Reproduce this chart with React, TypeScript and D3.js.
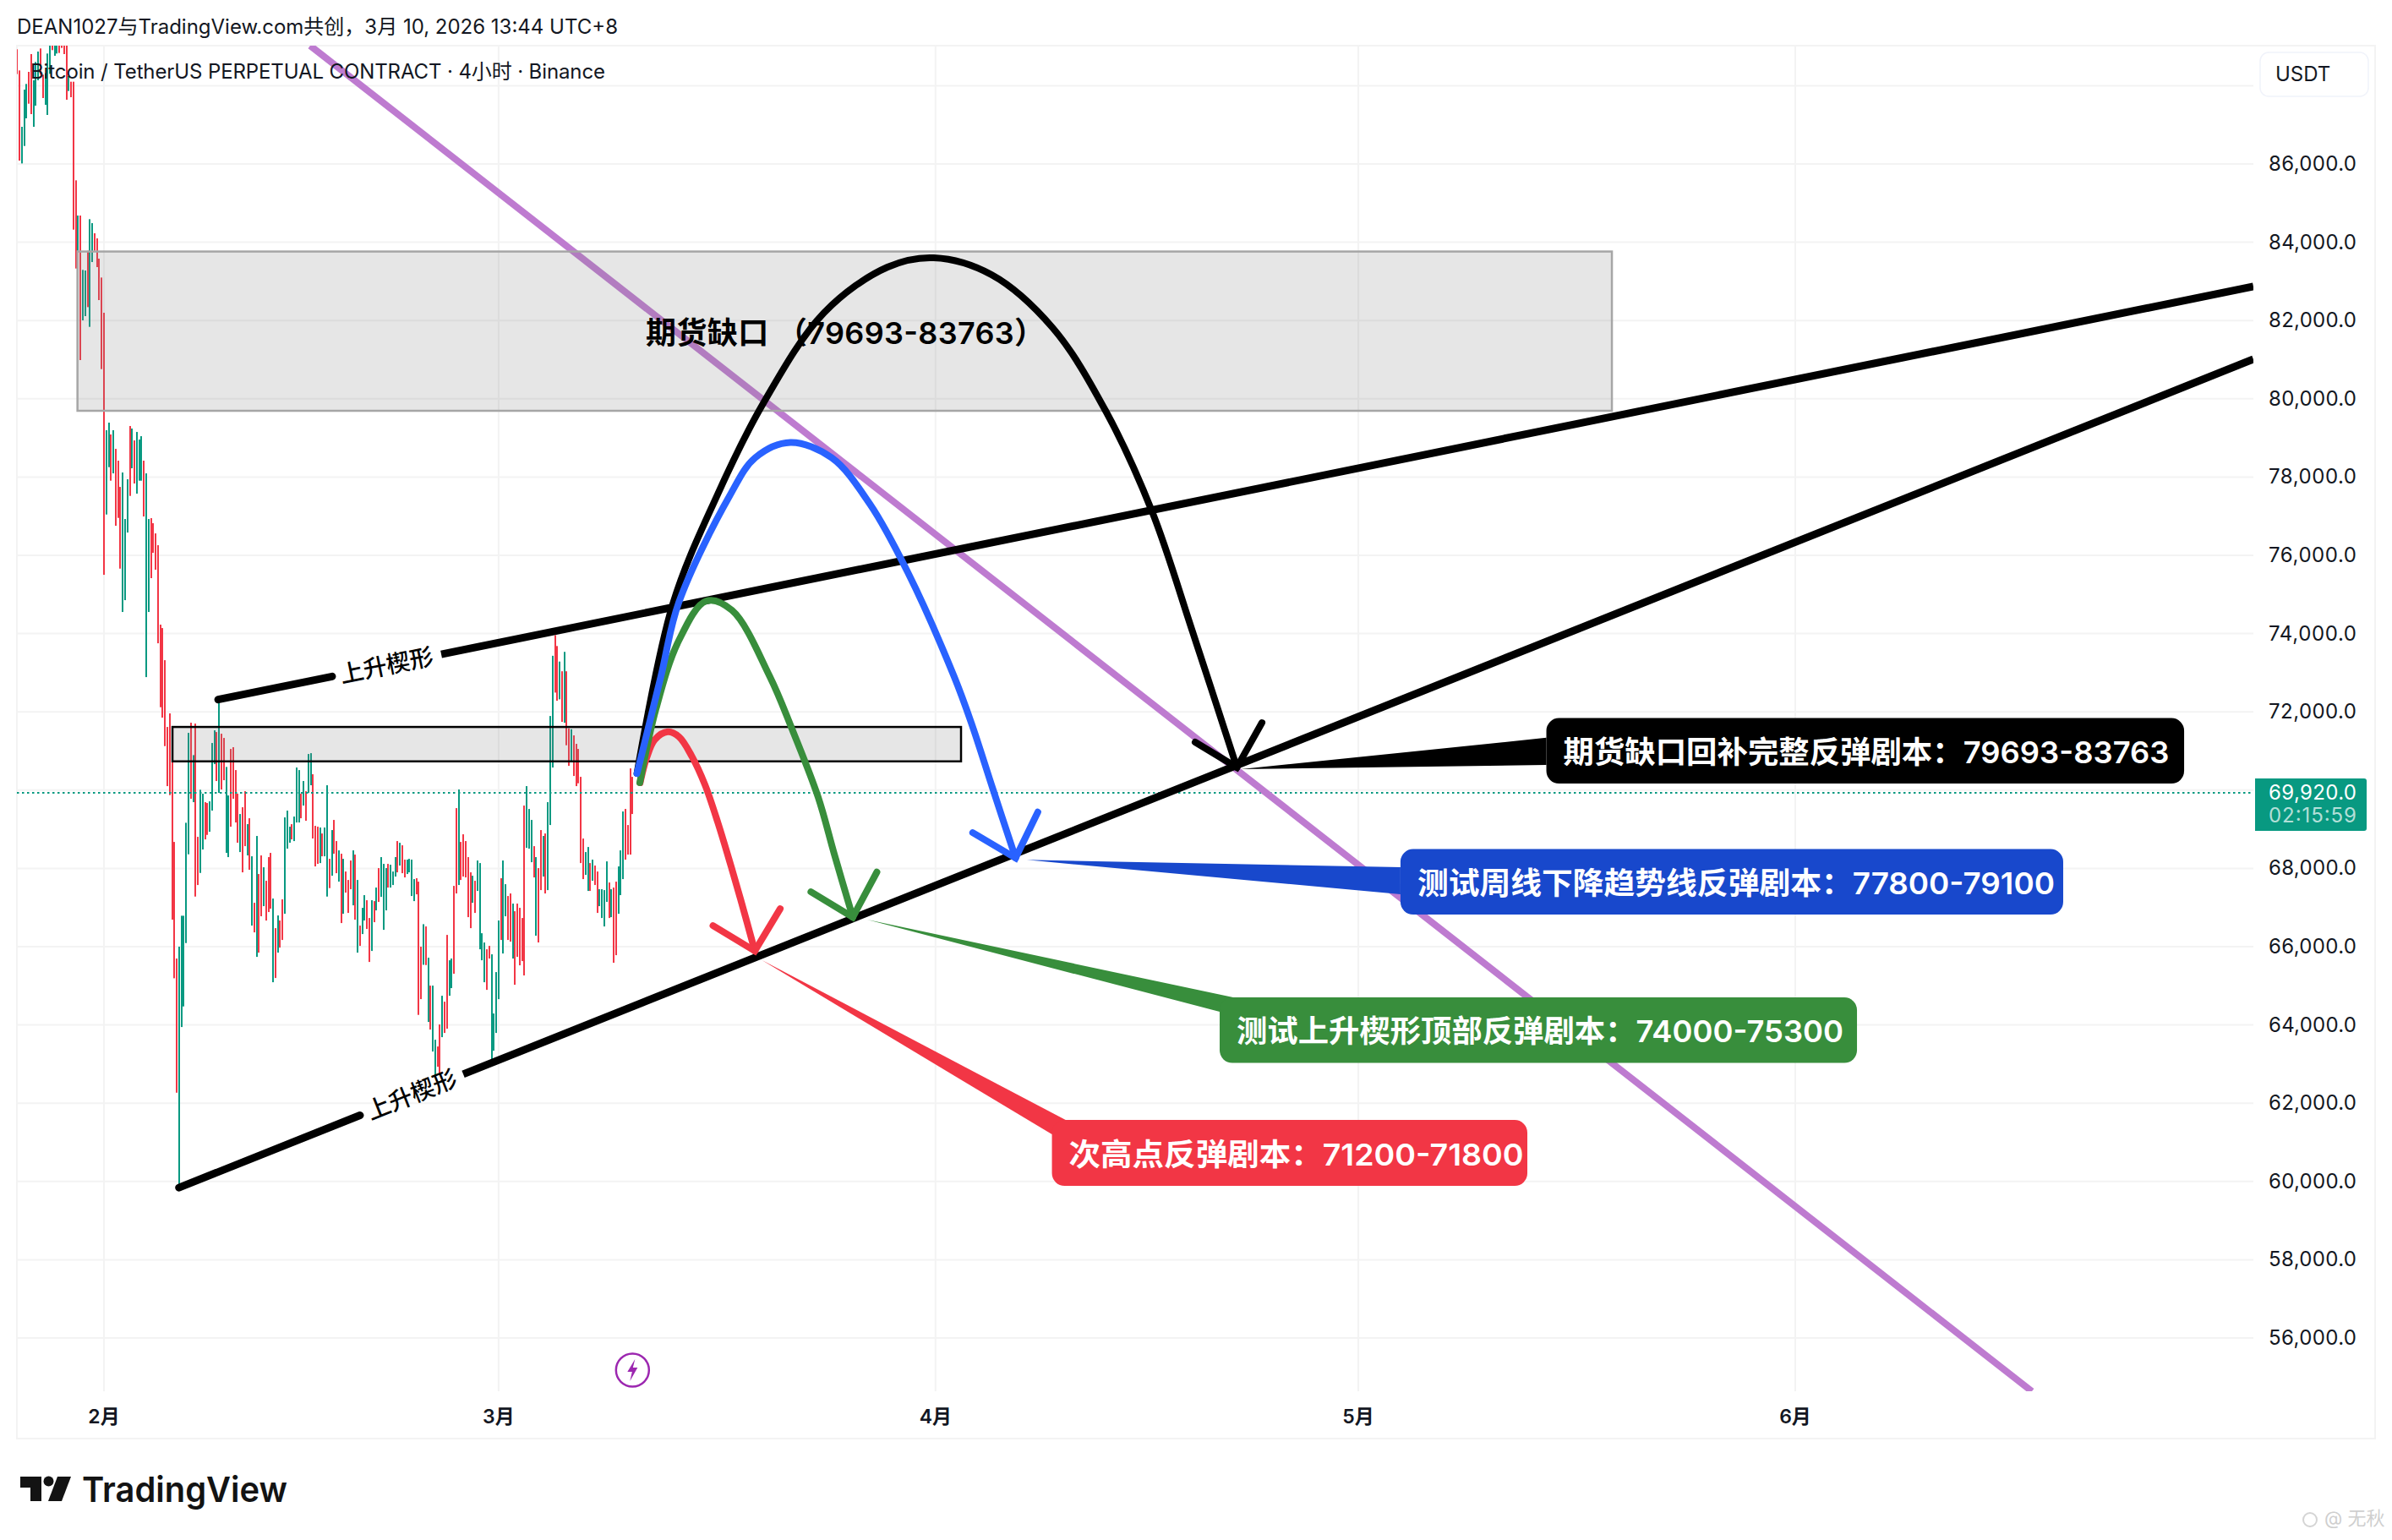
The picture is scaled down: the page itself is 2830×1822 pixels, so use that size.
import React from "react";
import * as d3 from "d3";

// ---------- candle data (4h bars, last bar = 2026-03-10 12:00 UTC+8) ----------
const candleDir = (
  "d d u u u d d u u u d d u u u d u u d d d d u d d d u d u u d u u d d d d d " +
  "u u d u d d d u u u d u d u u u d u u d d d d d d " +
  "d d d d d d u u u u u d u d d u u d d u u u d u d d u u d d d d u d d u " +
  "d u d u d d u d d d u d u d d u u u d u u u d u d u u d d d u d u u d u d " +
  "d u d u d d d u d u d u u d d u d u d u u u d u u u d u d d u u u u d d " +
  "d u d u d u u d d u d d u u d d u d d d d d u d u u u u d d u u u u " +
  "d u u d d u d d d d d u u u d u d d u d u u u d d u d u d d u d " +
  "d d d d u u d u d d u u u u d u d d u u u d d d d d u u d d u u u " +
  "d d d u d d d d u d d d d d u d d u d u u u u d u d u u u u u u d u u"
).split(" ");

const candleHigh = [
  88930, 88390, 86950, 87900, 88045, 88354, 88808, 88138, 88606, 88873, 88952, 88282, 88318, 88822, 90000, 90000, 90000, 90000, 90000, 90000,
  90000, 90000, 88246, 88102, 88102, 85582, 84682, 84682, 83293, 83278, 83782, 84589, 84488, 84229, 84099, 83581, 83098, 82198,
  79196, 79390, 79088, 79196, 78720, 78418, 77748, 78116, 76928, 77943, 79304, 79239, 78936, 79152, 78958, 79044, 78418, 78094, 76928, 76949, 76820, 76560, 76258, 74228, 74141,
  73320, 71614, 71960, 70750, 68676, 65696, 66000, 66790, 66790, 69166, 71463, 71722, 70894, 71700, 68806, 70008, 69908, 69692, 69670, 69713, 71204, 71528, 71484,
  72312, 71441, 71333, 70592, 69864, 71052, 71096, 70512, 69908, 69389, 69562, 69972, 69130, 69281, 68309, 67121, 68828, 67856, 68331, 68028, 67683, 68288, 68396, 67229,
  66473, 66797, 66668, 67208, 69303, 69476, 69065, 69130, 69324, 70577, 70512, 69908, 70232, 69972, 70923, 70944, 70405, 69087, 69065, 69044, 68892, 69044, 70124, 68244,
  68979, 69238, 68698, 68460, 68374, 68244, 67920, 67704, 68201, 68460, 68352, 67704, 66538, 66992, 67316, 67186, 66732, 67186, 67164, 67510, 68007, 68288, 68115, 68007,
  68115, 68093, 67920, 68288, 68698, 68654, 68590, 68223,
  68223, 68244, 68223, 67726, 67748, 67661, 66000, 66574, 66516, 65717, 65004, 65004, 63622, 63449, 64011, 64745, 64594, 66300, 65652, 65696, 67553, 69540, 70016, 68676,
  68871, 68698, 68288, 67899, 67812, 67683, 68201, 68136, 66343, 66106, 65933, 66020, 65804, 64292, 65350, 66668, 67748, 68201, 67596, 67294, 67359, 67100, 66905, 67100,
  66992, 66732, 69605, 70102, 69519, 69238, 68568, 68288, 68007, 68979, 68828, 68892, 69692, 71894, 73433, 73959, 73682, 73285, 73037, 73533, 73037, 71578, 71556, 71398,
  71182, 71052, 70339, 68763, 68417, 68546, 68136, 68223, 68072, 67920, 67467, 67467, 67445, 68179, 67639, 67467, 67510, 67661, 68050, 68460, 69454, 69519, 69108, 70555, 70339,
];

const candleLow = [
  88297, 86086, 86014, 86460, 87166, 87540, 87274, 86950, 87490, 88138, 88282, 87685, 87512, 87253, 88304, 88909, 88765, 88822, 88837, 88966,
  88808, 87642, 87865, 87706, 84322, 83329, 83782, 80989, 82004, 82112, 82342, 81838, 83494, 83782, 83365, 82522, 80758, 75502,
  77043, 78252, 77907, 78094, 76755, 76956, 75660, 74552, 74854, 76582, 77518, 78224, 77835, 77576, 77907, 77907, 76992, 72888, 74552, 75416, 76064, 75632, 73752, 72118, 71852,
  71124, 70102, 69872, 66689, 65192, 62268, 59900, 63946, 64472, 66092, 68360, 69778, 69692, 67280, 67575, 67884, 68482, 68741, 68856, 68936, 69476, 70664, 70232,
  69929, 70016, 70253, 68396, 68288, 69065, 69778, 69173, 68655, 68417, 67899, 68568, 68331, 67964, 66538, 66365, 65739, 65847, 66776, 67035, 66667, 66884, 66970, 65091,
  65199, 65847, 65976, 66171, 66840, 68504, 68655, 68741, 68698, 69173, 69173, 69281, 69605, 69216, 69929, 70124, 68763, 68050, 68115, 68136, 68309, 68309, 67280, 67496,
  67812, 68374, 67877, 67661, 66603, 66840, 67380, 66862, 67467, 67056, 66689, 65847, 66020, 66322, 66668, 66452, 65609, 65890, 66625, 66927, 67143, 67272, 66430, 66927,
  67510, 67510, 67575, 67791, 67899, 68072, 67877, 67769,
  67856, 67899, 67294, 67164, 67337, 64256, 64659, 65537, 65530, 64076, 63881, 63320, 62686, 62931, 62740, 63687, 63795, 63903, 64745, 64940, 65307, 67359, 67575, 67704,
  67791, 67769, 66754, 66473, 67121, 66862, 67424, 65933, 65652, 65091, 64896, 65696, 63104, 63341, 63795, 64659, 66171, 65825, 66776, 66171, 66128, 65696, 65026, 65739,
  65523, 65631, 65264, 68525, 68504, 68158, 67769, 66279, 66107, 67445, 67791, 67359, 67445, 69108, 70577, 72492, 72284, 72320, 71744, 71722, 71146, 70620, 70750, 70361,
  70102, 70174, 68136, 67726, 67834, 67424, 67424, 67683, 67575, 66862, 67035, 66732, 66516, 67143, 66732, 66754, 65588, 65782, 66840, 67316, 67726, 68223, 68352, 68352, 69389,
];

// ---------- axes ----------
const priceTicks = d3.range(56000, 88001, 2000);
const monthTicks = [
  { label: "2月", date: Date.UTC(2026, 1, 1) },
  { label: "3月", date: Date.UTC(2026, 2, 1) },
  { label: "4月", date: Date.UTC(2026, 3, 1) },
  { label: "5月", date: Date.UTC(2026, 4, 1) },
  { label: "6月", date: Date.UTC(2026, 5, 1) },
];
const lastPrice = 69920;
const countdown = "02:15:59";
const lastBarTime = Date.UTC(2026, 2, 10, 12);
const FEB1 = Date.UTC(2026, 1, 1);

// ---------- drawings: [days since Feb 1, price] ----------
type P = [number, number];
const upperWedgeA: P[] = [[8.1, 72314], [16.19, 72905]];
const upperWedgeB: P[] = [[23.93, 73471], [152.5, 82868]];
const lowerWedgeA: P[] = [[5.32, 59842], [18.17, 61690]];
const lowerWedgeB: P[] = [[25.49, 62742], [152.5, 81010]];
const upperWedgeLabel: P = [20.05, 73187];
const lowerWedgeLabel: P = [21.83, 62216];
const weeklyTrend: P[] = [[14.63, 89024], [136.79, 54637]];
const gapBox: P[] = [[-1.88, 83763], [106.99, 79693]];
const resistBox: P[] = [[4.86, 71614], [60.81, 70735]];
const gapLabel: P = [52.6, 81690];

const redArc: P[] = [[38.04, 70189], [38.5, 70822], [39.08, 71290], [40, 71491], [40.8, 71362], [41.72, 70858], [42.64, 70139], [43.56, 69167], [44.35, 68230], [45.16, 67223], [46.18, 65890]];
const redHead: P[] = [[43.21, 66538], [46.18, 65890], [47.98, 66970]];
const greenArc: P[] = [[38.02, 70189], [39.16, 72068], [40.78, 73818], [42.74, 74833], [44.56, 74595], [47.23, 72910], [48.76, 71614], [50.67, 69822], [51.81, 68374], [53.13, 66754]];
const greenHead: P[] = [[50.16, 67402], [53.13, 66754], [54.84, 67906]];
const blueArc: P[] = [[37.82, 70426], [39.52, 72910], [40.78, 74790], [44.38, 77511], [46.21, 78494], [48.7, 78883], [51.63, 78494], [54.33, 77317], [57.03, 75567], [60.31, 72910], [61.57, 71686], [63.06, 70038], [64.68, 68266]];
const blueHead: P[] = [[61.64, 68914], [64.68, 68266], [66.26, 69439]];
const blackArc: P[] = [[37.82, 70426], [40.35, 74746], [43.48, 77511], [46.75, 79866], [51.09, 82198], [55.6, 83365], [58.87, 83602], [62.97, 83170], [67.32, 81810], [71.1, 79671], [74.36, 77122], [77.27, 74012], [80.38, 70578]];
const blackHead: P[] = [[77.42, 71226], [80.38, 70578], [82.16, 71722]];

const callouts = [
  { text: "期货缺口回补完整反弹剧本：79693-83763", fill: "#000000", box: [[102.34, 71841], [147.59, 70167]] as P[], pointer: [[80.66, 70534], [102.34, 71338], [102.34, 70642]] as P[], textWidth: 717 },
  { text: "测试周线下降趋势线反弹剧本：77800-79100", fill: "#1848CC", box: [[91.99, 68493], [139.01, 66819]] as P[], pointer: [[65.47, 68217], [91.99, 68029], [91.99, 67338]] as P[], textWidth: 754 },
  { text: "测试上升楔形顶部反弹剧本：74000-75300", fill: "#388E3C", box: [[79.16, 64702], [124.38, 63028]] as P[], pointer: [[54.15, 66690], [80.12, 64702], [79.16, 64335]] as P[], textWidth: 718 },
  { text: "次高点反弹剧本：71200-71800", fill: "#F23645", box: [[67.26, 61570], [100.99, 59886]] as P[], pointer: [[46.66, 65659], [68.23, 61570], [67.26, 61203]] as P[], textWidth: 538 },
];

const headerText = "DEAN1027与TradingView.com共创，3月 10, 2026 13:44 UTC+8";
const symbolText = "Bitcoin / TetherUS PERPETUAL CONTRACT · 4小时 · Binance";

// ---------- layout ----------
const W = 2830, H = 1822;
const L = 20, T = 54, R = 2666, B = 1646, FR = 2810, FB = 1702;
const UP = "#089981", DOWN = "#F23645", GRID = "#F3F3F3", TXT = "#131722";
const FONT = 'Inter, "Noto Sans CJK SC", sans-serif';

const xScale = d3.scaleUtc().domain([FEB1, Date.UTC(2026, 5, 1)]).range([123, 2124]);
const yScale = d3.scaleLinear().domain([86000, 56000]).range([194, 1583]);
const dx = (d: number) => xScale(FEB1 + d * 864e5);
const curve = d3.line<P>().x((p) => dx(p[0])).y((p) => yScale(p[1])).curve(d3.curveCatmullRom.alpha(0.5));
const poly = d3.line<P>().x((p) => dx(p[0])).y((p) => yScale(p[1]));

function Arrow({ arc, head, color, w }: { arc: P[]; head: P[]; color: string; w: number }) {
  return (
    <g fill="none" stroke={color} strokeWidth={w} strokeLinecap="round" strokeLinejoin="miter">
      <path d={curve(arc) || ""} />
      <path d={poly(head) || ""} />
    </g>
  );
}

function Box({ b, stroke, sw }: { b: P[]; stroke: string; sw: number }) {
  const x0 = dx(b[0][0]), x1 = dx(b[1][0]), y0 = yScale(b[0][1]), y1 = yScale(b[1][1]);
  return <rect x={x0} y={y0} width={x1 - x0} height={y1 - y0} fill="rgba(128,128,128,0.2)" stroke={stroke} strokeWidth={sw} />;
}

export default function App() {
  const n = candleHigh.length;
  const priceY = Math.floor(yScale(lastPrice));
  return (
    <svg width={W} height={H} viewBox={`0 0 ${W} ${H}`} style={{ position: "absolute", left: 0, top: 0, background: "#fff" }} fontFamily={FONT}>
      <defs>
        <clipPath id="plot"><rect x={L} y={T} width={R - L} height={B - T} /></clipPath>
      </defs>
      <rect width={W} height={H} fill="#fff" />
      <text x={20} y={33.5} fontSize={24} fill={TXT} dominantBaseline="middle" textLength={711}>{headerText}</text>

      {/* frame and grid */}
      <rect x={L} y={T} width={FR - L} height={FB - T} fill="none" stroke={GRID} strokeWidth={2} />
      {priceTicks.map((p) => (
        <line key={p} x1={L} x2={R} y1={yScale(p)} y2={yScale(p)} stroke={GRID} strokeWidth={2} />
      ))}
      {monthTicks.map((m) => (
        <line key={m.label} x1={xScale(m.date)} x2={xScale(m.date)} y1={T} y2={B} stroke={GRID} strokeWidth={2} />
      ))}

      <g clipPath="url(#plot)">
        {/* candles */}
        {candleHigh.map((h, i) => {
          const t = lastBarTime - (n - 1 - i) * 4 * 36e5;
          const y0 = yScale(h), y1 = yScale(candleLow[i]);
          return <rect key={i} x={Math.round(xScale(t)) - 1} y={y0} width={2} height={y1 - y0} fill={candleDir[i] === "u" ? UP : DOWN} />;
        })}
        {/* last price line */}
        <line x1={L} x2={R} y1={priceY} y2={priceY} stroke={UP} strokeWidth={2} strokeDasharray="2.5 3.5" />

        <path d={poly(weeklyTrend) || ""} stroke="#BE7BD0" strokeWidth={8} fill="none" />
        <Box b={gapBox} stroke="#A6A6A6" sw={2.5} />
        <Box b={resistBox} stroke="#000" sw={2.5} />

        {/* wedge lines */}
        <g stroke="#000" strokeWidth={9} fill="none">
          <path d={poly(upperWedgeA) || ""} strokeLinecap="round" />
          <path d={poly(upperWedgeB) || ""} />
          <path d={poly(lowerWedgeA) || ""} strokeLinecap="round" />
          <path d={poly(lowerWedgeB) || ""} />
        </g>
        <text transform={`translate(${dx(upperWedgeLabel[0])},${yScale(upperWedgeLabel[1])}) rotate(-11.5)`} fontSize={28} fontWeight={500} textAnchor="middle" dominantBaseline="central" fill="#000">上升楔形</text>
        <text transform={`translate(${dx(lowerWedgeLabel[0])},${yScale(lowerWedgeLabel[1])}) rotate(-21.8)`} fontSize={28} fontWeight={500} textAnchor="middle" dominantBaseline="central" fill="#000">上升楔形</text>

        <text x={dx(gapLabel[0])} y={yScale(gapLabel[1])} fontSize={36} fontWeight={600} textAnchor="middle" dominantBaseline="central" fill="#000" textLength={472}>期货缺口 （79693-83763）</text>

        {/* callouts */}
        {callouts.map((c) => {
          const x0 = dx(c.box[0][0]), x1 = dx(c.box[1][0]), y0 = yScale(c.box[0][1]), y1 = yScale(c.box[1][1]);
          return (
            <g key={c.text}>
              <polygon points={c.pointer.map((p) => `${dx(p[0])},${yScale(p[1])}`).join(" ")} fill={c.fill} />
              <rect x={x0} y={y0} width={x1 - x0} height={y1 - y0} rx={15} fill={c.fill} />
              <text x={x0 + 20} y={(y0 + y1) / 2 + 1.5} fontSize={36} fontWeight={600} fill="#fff" dominantBaseline="central" textLength={c.textWidth} lengthAdjust="spacingAndGlyphs">{c.text}</text>
            </g>
          );
        })}

        {/* scenario arrows */}
        <Arrow arc={blackArc} head={blackHead} color="#000" w={8} />
        <Arrow arc={redArc} head={redHead} color="#F23645" w={8} />
        <Arrow arc={greenArc} head={greenHead} color="#388E3C" w={8} />
        <Arrow arc={blueArc} head={blueHead} color="#2962FF" w={8} />

        {/* event marker */}
        <circle cx={dx(37.5)} cy={1621} r={19.5} fill="#fff" stroke="#9C27B0" strokeWidth={2.5} />
        <path d={`M${dx(37.5) + 3},${1608} L${dx(37.5) - 6},${1623} L${dx(37.5) - 0.5},${1623} L${dx(37.5) - 3},${1634} L${dx(37.5) + 6},${1618} L${dx(37.5) + 0.5},${1618} Z`} fill="#9C27B0" />
      </g>

      <text x={36} y={86.5} fontSize={24} fill={TXT} dominantBaseline="middle" textLength={680}>{symbolText}</text>

      {/* price axis */}
      <rect x={2674} y={62} width={128} height={52} rx={10} fill="#fff" stroke="#F0F3FA" strokeWidth={1.5} />
      <text x={2692} y={89.5} fontSize={24} fill={TXT} dominantBaseline="middle">USDT</text>
      {priceTicks.filter((p) => p < 88000).map((p) => (
        <text key={p} x={2684} y={yScale(p) + 1.5} fontSize={24} fill={TXT} dominantBaseline="middle" textLength={104}>{d3.format(",.1f")(p)}</text>
      ))}
      <path d="M2668,921 H2797 a3,3 0 0 1 3,3 V980 a3,3 0 0 1 -3,3 H2668 Z" fill={UP} />
      <text x={2684} y={939} fontSize={24} fill="#fff" dominantBaseline="middle" textLength={104}>{d3.format(",.1f")(lastPrice)}</text>
      <text x={2684} y={966} fontSize={24} fill="#fff" fillOpacity={0.7} dominantBaseline="middle" textLength={104}>{countdown}</text>

      {/* time axis */}
      {monthTicks.map((m) => (
        <text key={m.label} x={xScale(m.date)} y={1678} fontSize={23} fontWeight={600} fill={TXT} textAnchor="middle" dominantBaseline="middle">{m.label}</text>
      ))}

      {/* branding */}
      <path d="M24,1747 H49 V1776 H36 V1760 H24 Z" fill="#131313" />
      <circle cx={57.5} cy={1752.5} r={6} fill="#131313" />
      <path d="M68,1747 H84 L73,1776 H57 Z" fill="#131313" />
      <text x={97} y={1777} fontSize={41} fontWeight={600} fill="#131313" textLength={243} lengthAdjust="spacingAndGlyphs">TradingView</text>

      <circle cx={2733} cy={1798} r={8} fill="none" stroke="#D4D4D4" strokeWidth={2} />
      <text x={2750} y={1798} fontSize={22} fill="#CFCFCF" dominantBaseline="middle">@ 无秋</text>
    </svg>
  );
}
